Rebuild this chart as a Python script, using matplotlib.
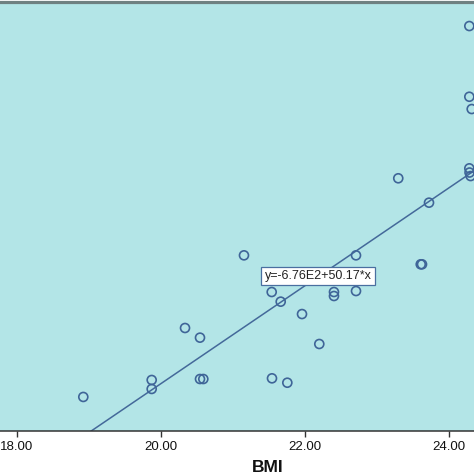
import numpy as np
import matplotlib
matplotlib.use("Agg")
import matplotlib.pyplot as plt

# BMI vs. hodnota (osa y je v originale oriznuta)
bmi = [18.925, 19.875, 19.875, 20.338, 20.546, 20.546, 20.592, 21.157,
       21.542, 21.667, 21.963, 22.203, 21.546, 21.759, 22.407, 22.407,
       22.713, 22.713, 23.300, 23.612, 23.630, 23.727, 24.287, 24.287,
       24.320, 24.287, 24.290, 24.305]
value = [313.9, 331.3, 322.1, 384.6, 374.7, 332.3, 332.3, 459.1,
         421.5, 411.6, 398.9, 368.2, 333.0, 328.5, 421.5, 417.4,
         459.1, 422.5, 538.1, 449.9, 449.9, 513.1, 694.2, 621.7,
         609.1, 548.3, 544.0, 540.4]

# koeficienty prolozene primky
intercept = -676.0
slope = 50.17
fit_label = "y=-6.76E2+50.17*x"

plt.rcParams['font.family'] = ['Liberation Sans', 'DejaVu Sans']

fig = plt.figure(figsize=(4.74, 4.74), dpi=100)
ax = fig.add_axes([0.0, 430.7 / 474 * 0 + (474 - 430.7) / 474, 1.0, (430.7 - 1.5) / 474])
ax.set_facecolor("#b3e5e7")

x_fit = np.array([min(bmi), max(bmi)])
ax.plot(x_fit, intercept + slope * x_fit, color="#44699a", lw=1.1, zorder=2)
ax.scatter(bmi, value, s=42, facecolors="none", edgecolors="#3f6598",
           linewidths=1.2, zorder=3)

ax.text(22.185, 437.9, fit_label, fontsize=9, ha="center", va="center",
        color="#222222", zorder=4,
        bbox=dict(boxstyle="square,pad=0.25", fc="white", ec="#4a6fa0", lw=0.9))

ax.set_xlim(17.768, 24.352)
ax.set_ylim(279.3, 279.3 + 429.2 * 1.0253)
ax.set_xticks([18, 20, 22, 24])
ax.set_xticklabels(["18.00", "20.00", "22.00", "24.00"])
ax.set_yticks([])
ax.tick_params(axis="x", direction="out", length=4.5, width=1.0,
               color="#333333", labelsize=9.5, pad=3, labelcolor="#111111")

for side in ["left", "right"]:
    ax.spines[side].set_visible(False)
ax.spines["top"].set_color("#6f8081")
ax.spines["top"].set_linewidth(2.3)
ax.spines["bottom"].set_color("#333333")
ax.spines["bottom"].set_linewidth(1.1)

fig.text(268 / 474, 1 - 467 / 474, "BMI", fontsize=12.5, fontweight="bold",
         ha="center", va="center", color="#111111")

fig.savefig("out.png", dpi=100, facecolor="white")
